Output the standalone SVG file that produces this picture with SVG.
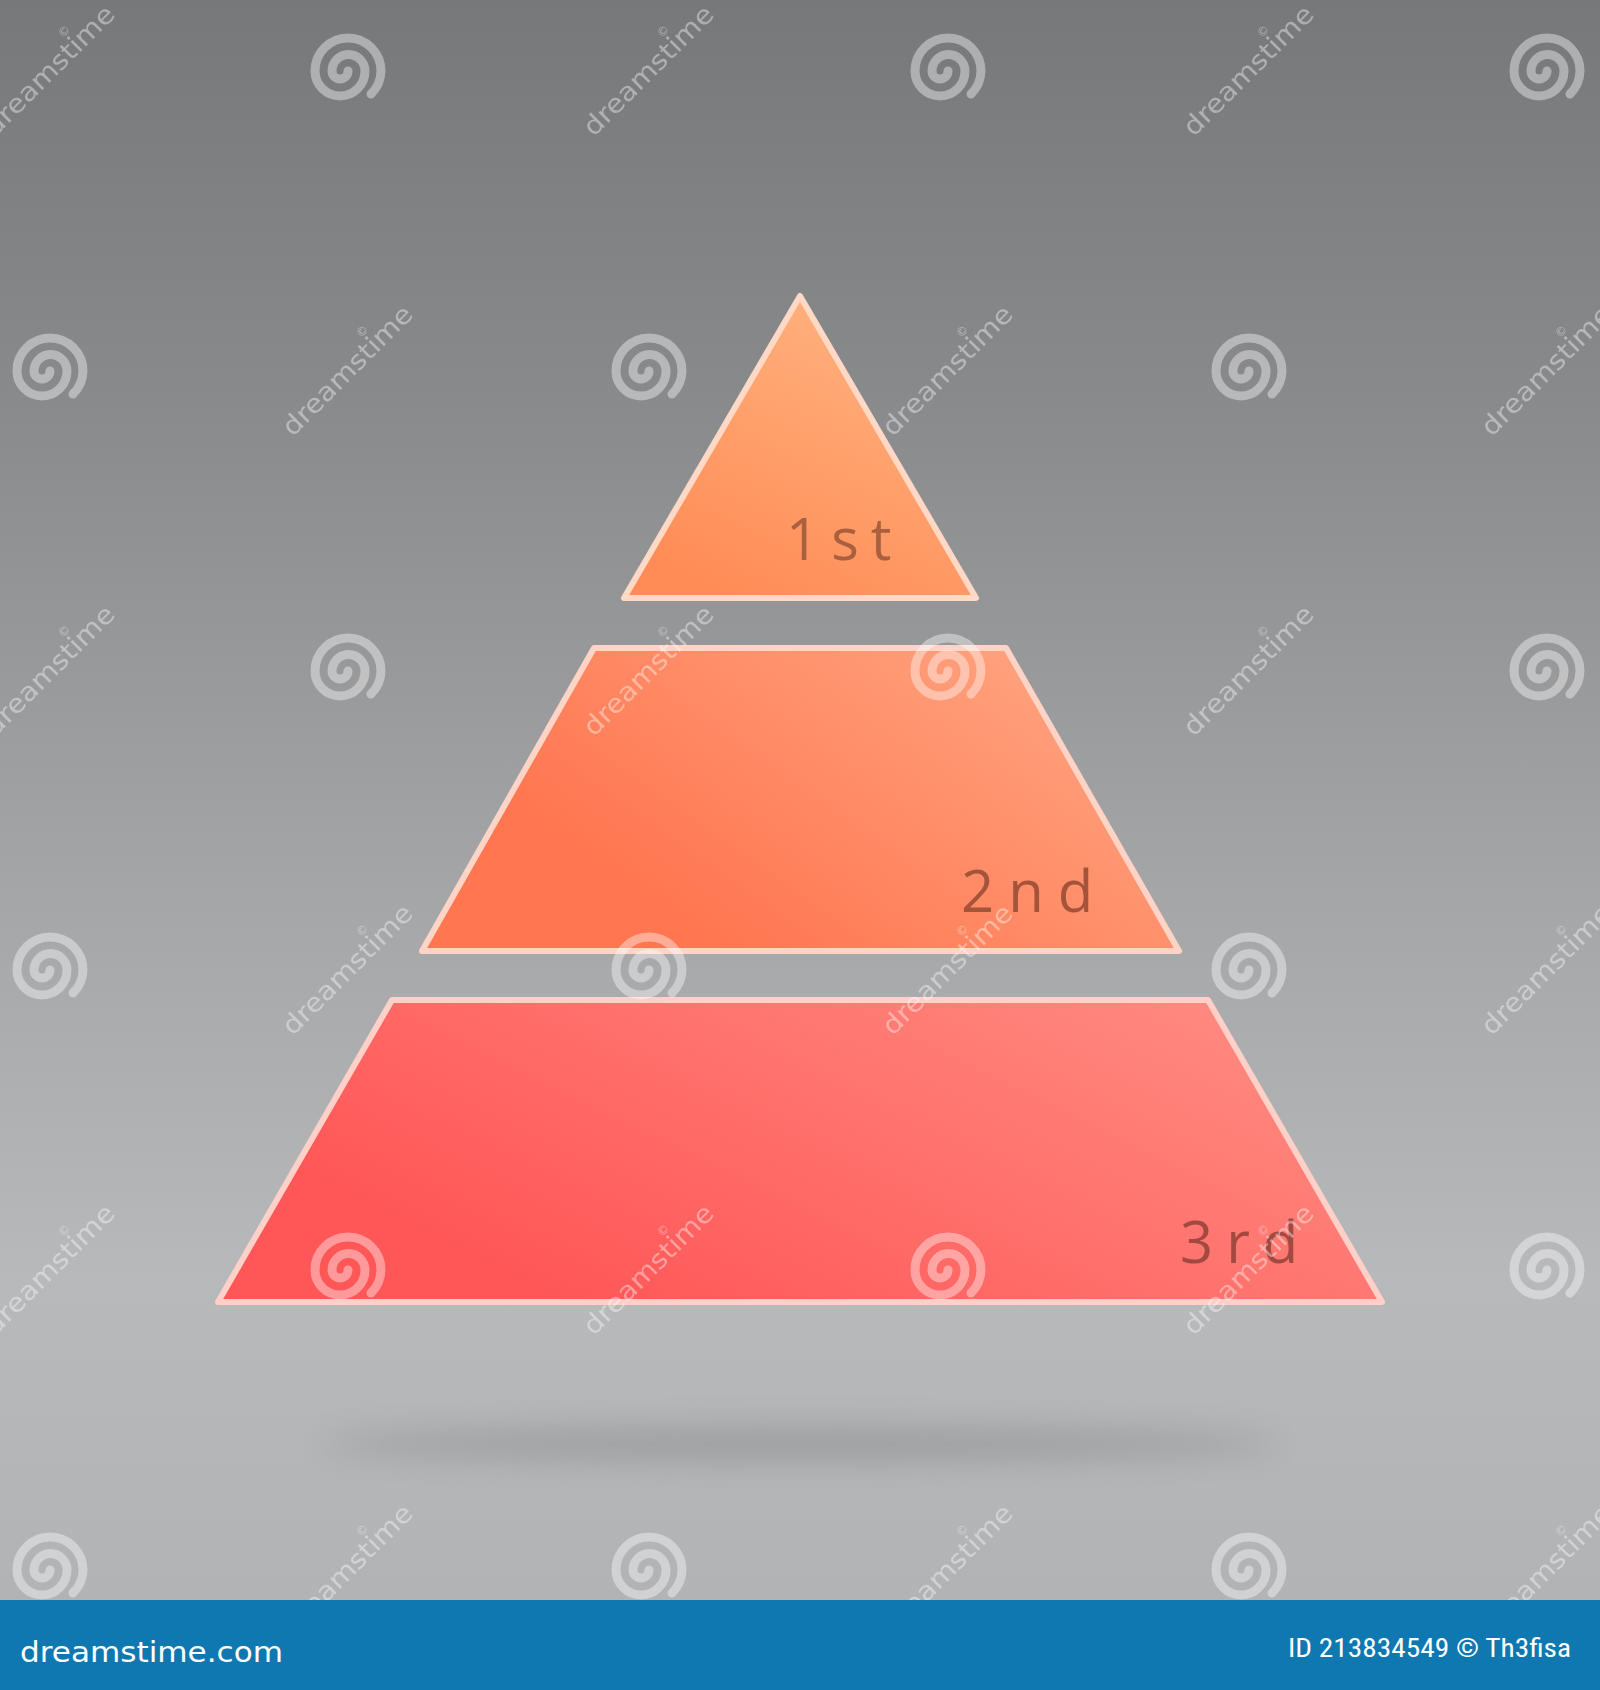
<svg xmlns="http://www.w3.org/2000/svg" xmlns:xlink="http://www.w3.org/1999/xlink" width="1600" height="1690" viewBox="0 0 1600 1690">
<defs>
<linearGradient id="bg" x1="0" y1="0" x2="0" y2="1600" gradientUnits="userSpaceOnUse">
<stop offset="0" stop-color="#77787a"/>
<stop offset="0.25" stop-color="#898a8c"/>
<stop offset="0.55" stop-color="#a4a5a7"/>
<stop offset="0.8" stop-color="#b8b9bb"/>
<stop offset="1" stop-color="#b2b3b5"/>
</linearGradient>
<linearGradient id="g1" x1="860" y1="300" x2="720" y2="600" gradientUnits="userSpaceOnUse">
<stop offset="0" stop-color="#ffb27e"/>
<stop offset="1" stop-color="#ff8b56"/>
</linearGradient>
<linearGradient id="g2" x1="1000" y1="640" x2="760" y2="980" gradientUnits="userSpaceOnUse">
<stop offset="0" stop-color="#ffa17d"/>
<stop offset="1" stop-color="#ff7650"/>
</linearGradient>
<linearGradient id="g3" x1="1200" y1="990" x2="950" y2="1500" gradientUnits="userSpaceOnUse">
<stop offset="0" stop-color="#ff8a80"/>
<stop offset="1" stop-color="#ff5657"/>
</linearGradient>
<filter id="blur" x="-20%" y="-200%" width="140%" height="500%">
<feGaussianBlur stdDeviation="16"/>
</filter>
<symbol id="spiral" overflow="visible">
<path d="M 23 23 A 33 33 0 0 0 33 0 A 33 33 0 0 0 -33 0 A 25 25 0 0 0 17 0 A 16.5 16.5 0 0 0 -16 0 A 8 8 0 0 0 0 0" fill="none" stroke="#ffffff" stroke-width="9" stroke-linecap="round"/>
</symbol>
<g id="wm">
<text x="0" y="8" text-anchor="middle" transform="rotate(-45)" textLength="172" lengthAdjust="spacingAndGlyphs">dreamstime</text>
<text x="38" y="-14" text-anchor="middle" font-size="12" transform="rotate(-45)">©</text>
</g>
</defs>
<style>
.shape { stroke-width: 6; stroke-linejoin: round; }
.lbl { font-family: "Open Sans", "Noto Sans", sans-serif; font-size: 58px; }
.wmark { fill: #ffffff; opacity: 0.4; font-family: "DejaVu Sans", sans-serif; font-size: 26px; }
.foot { fill: #ffffff; }
</style>
<rect id="background" x="0" y="0" width="1600" height="1600" fill="url(#bg)"/>
<ellipse cx="800" cy="1444" rx="480" ry="16" fill="#7d7e80" opacity="0.45" filter="url(#blur)"/>

<g id="connectors"></g>

<g id="node-3rd">
<polygon class="shape" points="392,1000 1208,1000 1382,1302 218,1302" fill="url(#g3)" stroke="#ffd0c8"/>
<text class="lbl" x="1180" y="1263" fill="#a24a42" letter-spacing="13">3rd</text>
</g>
<g id="node-2nd">
<polygon class="shape" points="594,648 1006,648 1179,951 422,951" fill="url(#g2)" stroke="#ffd4c6"/>
<text class="lbl" x="961" y="912" fill="#a5543c" letter-spacing="14">2nd</text>
</g>
<g id="node-1st">
<polygon class="shape" points="800,296 976,598 624,598" fill="url(#g1)" stroke="#ffd8c6"/>
<text class="lbl" x="786" y="560" fill="#a8603e" letter-spacing="12">1st</text>
</g>

<g id="watermark" class="wmark">
<use xlink:href="#spiral" x="348" y="71"/>
<use xlink:href="#spiral" x="948" y="71"/>
<use xlink:href="#spiral" x="1547" y="71"/>
<use xlink:href="#spiral" x="348" y="671"/>
<use xlink:href="#spiral" x="948" y="671"/>
<use xlink:href="#spiral" x="1547" y="671"/>
<use xlink:href="#spiral" x="348" y="1270"/>
<use xlink:href="#spiral" x="948" y="1270"/>
<use xlink:href="#spiral" x="1547" y="1270"/>
<use xlink:href="#spiral" x="50" y="371"/>
<use xlink:href="#spiral" x="649" y="371"/>
<use xlink:href="#spiral" x="1249" y="371"/>
<use xlink:href="#spiral" x="50" y="970"/>
<use xlink:href="#spiral" x="649" y="970"/>
<use xlink:href="#spiral" x="1249" y="970"/>
<use xlink:href="#spiral" x="50" y="1570"/>
<use xlink:href="#spiral" x="649" y="1570"/>
<use xlink:href="#spiral" x="1249" y="1570"/>
<use xlink:href="#wm" x="50" y="71"/>
<use xlink:href="#wm" x="649" y="71"/>
<use xlink:href="#wm" x="1249" y="71"/>
<use xlink:href="#wm" x="50" y="671"/>
<use xlink:href="#wm" x="649" y="671"/>
<use xlink:href="#wm" x="1249" y="671"/>
<use xlink:href="#wm" x="50" y="1270"/>
<use xlink:href="#wm" x="649" y="1270"/>
<use xlink:href="#wm" x="1249" y="1270"/>
<use xlink:href="#wm" x="348" y="371"/>
<use xlink:href="#wm" x="948" y="371"/>
<use xlink:href="#wm" x="1547" y="371"/>
<use xlink:href="#wm" x="348" y="970"/>
<use xlink:href="#wm" x="948" y="970"/>
<use xlink:href="#wm" x="1547" y="970"/>
<use xlink:href="#wm" x="348" y="1570"/>
<use xlink:href="#wm" x="948" y="1570"/>
<use xlink:href="#wm" x="1547" y="1570"/>
</g>

<g id="footer">
<rect x="0" y="1600" width="1600" height="90" fill="#0f78b0"/>
<text class="foot" x="20" y="1662" font-family="DejaVu Sans, sans-serif" font-size="29" textLength="263" lengthAdjust="spacingAndGlyphs">dreamstime.com</text>
<text class="foot" x="1571" y="1657" text-anchor="end" font-family="Liberation Sans Narrow, Roboto Condensed, Liberation Sans, sans-serif" font-size="26" textLength="283" lengthAdjust="spacingAndGlyphs">ID 213834549 © Th3fisa</text>
</g>
</svg>
